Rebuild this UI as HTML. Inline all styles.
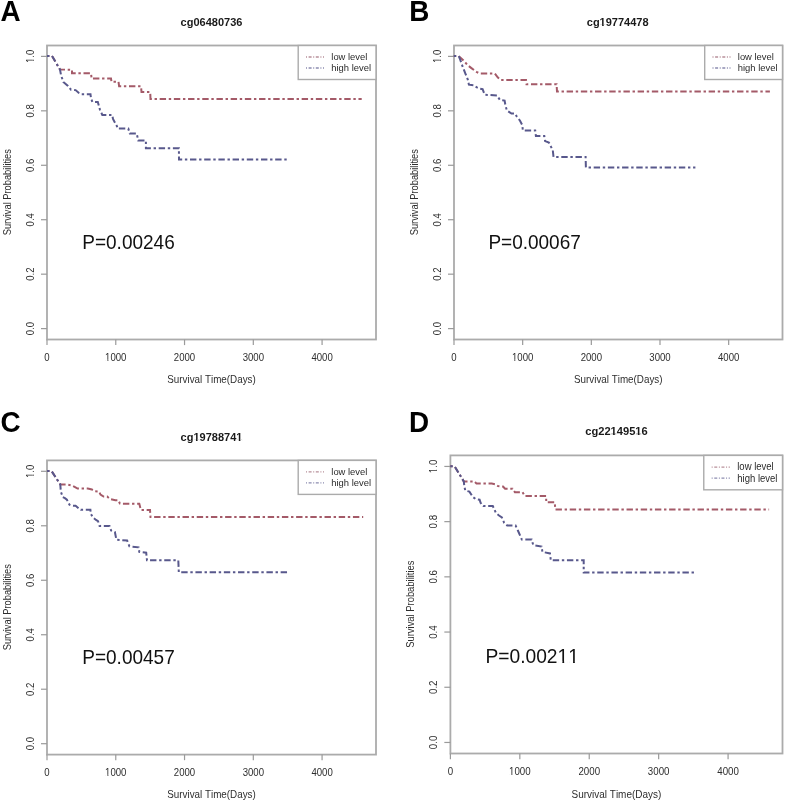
<!DOCTYPE html>
<html><head><meta charset="utf-8"><title>Survival curves</title>
<style>
html,body{margin:0;padding:0;background:#fff;}
body{width:785px;height:802px;overflow:hidden;}
svg{display:block;will-change:transform;}
text{font-family:"Liberation Sans", sans-serif;font-kerning:none;}
.lab{font-weight:bold;font-size:29px;fill:#000;}
.ttl{font-weight:bold;fill:#1a1a1a;}
.tk{fill:#2e2e2e;}
.al{fill:#2e2e2e;}
.lg{fill:#2a2a2a;}
.pv{fill:#111;}
</style></head>
<body>
<svg width="785" height="802" viewBox="0 0 785 802">
<rect width="785" height="802" fill="#fff"/>
<text transform="translate(0.4 20.8) scale(0.96 1)" class="lab">A</text>
<g transform="translate(211.5 25.8)"><text class="ttl" text-anchor="middle" style="font-size:11px">cg06480736</text></g>
<rect x="47" y="45.5" width="329" height="294" fill="none" stroke="#ababab" stroke-width="1.8"/>
<line x1="41" y1="328.61" x2="47" y2="328.61" stroke="#9a9a9a" stroke-width="1.2"/>
<g transform="translate(33.6 328.61) rotate(-90) scale(1 1.05)"><text class="tk" text-anchor="middle" style="font-size:9.6px">0.0</text></g>
<line x1="41" y1="274.17" x2="47" y2="274.17" stroke="#9a9a9a" stroke-width="1.2"/>
<g transform="translate(33.6 274.17) rotate(-90) scale(1 1.05)"><text class="tk" text-anchor="middle" style="font-size:9.6px">0.2</text></g>
<line x1="41" y1="219.72" x2="47" y2="219.72" stroke="#9a9a9a" stroke-width="1.2"/>
<g transform="translate(33.6 219.72) rotate(-90) scale(1 1.05)"><text class="tk" text-anchor="middle" style="font-size:9.6px">0.4</text></g>
<line x1="41" y1="165.28" x2="47" y2="165.28" stroke="#9a9a9a" stroke-width="1.2"/>
<g transform="translate(33.6 165.28) rotate(-90) scale(1 1.05)"><text class="tk" text-anchor="middle" style="font-size:9.6px">0.6</text></g>
<line x1="41" y1="110.83" x2="47" y2="110.83" stroke="#9a9a9a" stroke-width="1.2"/>
<g transform="translate(33.6 110.83) rotate(-90) scale(1 1.05)"><text class="tk" text-anchor="middle" style="font-size:9.6px">0.8</text></g>
<line x1="41" y1="56.39" x2="47" y2="56.39" stroke="#9a9a9a" stroke-width="1.2"/>
<g transform="translate(33.6 56.39) rotate(-90) scale(1 1.05)"><text class="tk" text-anchor="middle" style="font-size:9.6px">1.0</text><rect x="-6.54" y="-0.87" width="2.23" height="1.47" fill="#fff"/><rect x="-3.36" y="-0.87" width="2.16" height="1.47" fill="#fff"/></g>
<line x1="47" y1="339.5" x2="47" y2="345.1" stroke="#9a9a9a" stroke-width="1.2"/>
<g transform="translate(47 360.6) scale(1 1.05)"><text class="tk" text-anchor="middle" style="font-size:9.6px">0</text></g>
<line x1="115.77" y1="339.5" x2="115.77" y2="345.1" stroke="#9a9a9a" stroke-width="1.2"/>
<g transform="translate(115.77 360.6) scale(1 1.05)"><text class="tk" text-anchor="middle" style="font-size:9.6px">1000</text><rect x="-10.55" y="-0.87" width="2.23" height="1.47" fill="#fff"/><rect x="-7.37" y="-0.87" width="2.16" height="1.47" fill="#fff"/></g>
<line x1="184.54" y1="339.5" x2="184.54" y2="345.1" stroke="#9a9a9a" stroke-width="1.2"/>
<g transform="translate(184.54 360.6) scale(1 1.05)"><text class="tk" text-anchor="middle" style="font-size:9.6px">2000</text></g>
<line x1="253.31" y1="339.5" x2="253.31" y2="345.1" stroke="#9a9a9a" stroke-width="1.2"/>
<g transform="translate(253.31 360.6) scale(1 1.05)"><text class="tk" text-anchor="middle" style="font-size:9.6px">3000</text></g>
<line x1="322.08" y1="339.5" x2="322.08" y2="345.1" stroke="#9a9a9a" stroke-width="1.2"/>
<g transform="translate(322.08 360.6) scale(1 1.05)"><text class="tk" text-anchor="middle" style="font-size:9.6px">4000</text></g>
<g transform="translate(211.5 382.7) scale(1 1.05)"><text class="al" text-anchor="middle" style="font-size:9.85px">Survival Time(Days)</text></g>
<g transform="translate(11.4 192.2) rotate(-90) scale(1 1.18)"><text class="al" text-anchor="middle" style="font-size:9.3px">Survival Probabilities</text></g>
<rect x="298.2" y="45.5" width="77.8" height="34" fill="#fff" stroke="#ababab" stroke-width="1.4"/>
<line x1="306" y1="57" x2="324" y2="57" stroke="#b8909a" stroke-width="1.3" stroke-dasharray="1 1.6 3 1.6"/>
<line x1="306" y1="68" x2="324" y2="68" stroke="#8c8cb0" stroke-width="1.3" stroke-dasharray="1 1.6 3 1.6"/>
<g transform="translate(331.3 60.4) scale(1 1.05)"><text class="lg" style="font-size:9.4px">low level</text></g>
<g transform="translate(331.3 71.4) scale(1 1.05)"><text class="lg" style="font-size:9.4px">high level</text></g>
<polyline points="47,56 52,56 60,69.5 72,69.8 72,73.3 91,73.3 91.6,78.6 111,78.6 111.5,81.8 118.5,81.8 119.1,86.2 141,86.2 141.5,92 150.2,92 150.5,98.9 361.7,98.9" fill="none" stroke="#a45a68" stroke-width="2" stroke-dasharray="2.4 2.7 6.4 2.7" stroke-linejoin="miter"/>
<polyline points="47,56 52,56 60,69.5 61,75 63.3,82 68,86 71,89.7 75.6,90.1 78.6,92.8 81,94.3 90.5,94.3 91,98.2 92.4,101.9 97.8,101.9 100,109.8 102.3,114.9 112.2,114.9 113,119 116.8,125.9 117.6,128.6 128.3,128.6 129.8,133.5 136.7,133.5 138.2,140.4 145.9,140.4 145.9,148.2 178.9,148.2 179,159.6 286.8,159.6" fill="none" stroke="#58588c" stroke-width="2" stroke-dasharray="2.4 2.7 6.4 2.7" stroke-linejoin="miter"/>
<g transform="translate(82.3 248.6) scale(1 1.04)"><text class="pv" style="font-size:19px">P=0.00246</text></g>
<text transform="translate(409.3 20.9) scale(0.96 1)" class="lab">B</text>
<g transform="translate(617.65 25.8)"><text class="ttl" text-anchor="middle" style="font-size:11px">cg19774478</text><rect x="-17.96" y="-1.27" width="2.42" height="1.87" fill="#fff"/><rect x="-13.93" y="-1.27" width="2.28" height="1.87" fill="#fff"/></g>
<rect x="454" y="45.5" width="328.5" height="294" fill="none" stroke="#ababab" stroke-width="1.8"/>
<line x1="448" y1="328.61" x2="454" y2="328.61" stroke="#9a9a9a" stroke-width="1.2"/>
<g transform="translate(440.6 328.61) rotate(-90) scale(1 1.05)"><text class="tk" text-anchor="middle" style="font-size:9.6px">0.0</text></g>
<line x1="448" y1="274.17" x2="454" y2="274.17" stroke="#9a9a9a" stroke-width="1.2"/>
<g transform="translate(440.6 274.17) rotate(-90) scale(1 1.05)"><text class="tk" text-anchor="middle" style="font-size:9.6px">0.2</text></g>
<line x1="448" y1="219.72" x2="454" y2="219.72" stroke="#9a9a9a" stroke-width="1.2"/>
<g transform="translate(440.6 219.72) rotate(-90) scale(1 1.05)"><text class="tk" text-anchor="middle" style="font-size:9.6px">0.4</text></g>
<line x1="448" y1="165.28" x2="454" y2="165.28" stroke="#9a9a9a" stroke-width="1.2"/>
<g transform="translate(440.6 165.28) rotate(-90) scale(1 1.05)"><text class="tk" text-anchor="middle" style="font-size:9.6px">0.6</text></g>
<line x1="448" y1="110.83" x2="454" y2="110.83" stroke="#9a9a9a" stroke-width="1.2"/>
<g transform="translate(440.6 110.83) rotate(-90) scale(1 1.05)"><text class="tk" text-anchor="middle" style="font-size:9.6px">0.8</text></g>
<line x1="448" y1="56.39" x2="454" y2="56.39" stroke="#9a9a9a" stroke-width="1.2"/>
<g transform="translate(440.6 56.39) rotate(-90) scale(1 1.05)"><text class="tk" text-anchor="middle" style="font-size:9.6px">1.0</text><rect x="-6.54" y="-0.87" width="2.23" height="1.47" fill="#fff"/><rect x="-3.36" y="-0.87" width="2.16" height="1.47" fill="#fff"/></g>
<line x1="454" y1="339.5" x2="454" y2="345.1" stroke="#9a9a9a" stroke-width="1.2"/>
<g transform="translate(454 360.6) scale(1 1.05)"><text class="tk" text-anchor="middle" style="font-size:9.6px">0</text></g>
<line x1="522.67" y1="339.5" x2="522.67" y2="345.1" stroke="#9a9a9a" stroke-width="1.2"/>
<g transform="translate(522.67 360.6) scale(1 1.05)"><text class="tk" text-anchor="middle" style="font-size:9.6px">1000</text><rect x="-10.55" y="-0.87" width="2.23" height="1.47" fill="#fff"/><rect x="-7.37" y="-0.87" width="2.16" height="1.47" fill="#fff"/></g>
<line x1="591.33" y1="339.5" x2="591.33" y2="345.1" stroke="#9a9a9a" stroke-width="1.2"/>
<g transform="translate(591.33 360.6) scale(1 1.05)"><text class="tk" text-anchor="middle" style="font-size:9.6px">2000</text></g>
<line x1="660" y1="339.5" x2="660" y2="345.1" stroke="#9a9a9a" stroke-width="1.2"/>
<g transform="translate(660 360.6) scale(1 1.05)"><text class="tk" text-anchor="middle" style="font-size:9.6px">3000</text></g>
<line x1="728.67" y1="339.5" x2="728.67" y2="345.1" stroke="#9a9a9a" stroke-width="1.2"/>
<g transform="translate(728.67 360.6) scale(1 1.05)"><text class="tk" text-anchor="middle" style="font-size:9.6px">4000</text></g>
<g transform="translate(618.25 382.7) scale(1 1.05)"><text class="al" text-anchor="middle" style="font-size:9.85px">Survival Time(Days)</text></g>
<g transform="translate(418.4 192.2) rotate(-90) scale(1 1.18)"><text class="al" text-anchor="middle" style="font-size:9.3px">Survival Probabilities</text></g>
<rect x="704.7" y="45.5" width="77.8" height="34" fill="#fff" stroke="#ababab" stroke-width="1.4"/>
<line x1="712.5" y1="57" x2="730.5" y2="57" stroke="#b8909a" stroke-width="1.3" stroke-dasharray="1 1.6 3 1.6"/>
<line x1="712.5" y1="68" x2="730.5" y2="68" stroke="#8c8cb0" stroke-width="1.3" stroke-dasharray="1 1.6 3 1.6"/>
<g transform="translate(737.8 60.4) scale(1 1.05)"><text class="lg" style="font-size:9.4px">low level</text></g>
<g transform="translate(737.8 71.4) scale(1 1.05)"><text class="lg" style="font-size:9.4px">high level</text></g>
<polyline points="453.8,56 458.7,56 463.2,60.2 467.8,65.3 471.4,68.1 476.5,71.9 479.6,73.4 494.8,73.4 497.9,77.5 501,80 526,80 526.5,84.2 556.6,84.2 557,91.5 769.9,91.5" fill="none" stroke="#a45a68" stroke-width="2" stroke-dasharray="2.4 2.7 6.4 2.7" stroke-linejoin="miter"/>
<polyline points="453.8,56 458.7,56 460.2,59.7 462.7,66.8 465.3,73.4 467.8,79.6 468.9,84.7 473.4,85.2 476.5,87.2 479.6,88.7 482.6,89.2 484.7,94.8 496.9,95.4 500,100 504.6,100.6 505.4,105.2 506.9,110.5 511.5,113.6 515.3,113.6 516.8,116.6 519.9,120.5 522.2,125 522.9,130.4 535.2,130.4 535.9,136 544.3,136 545.1,141.1 548.9,142.6 552.8,150.3 553.5,156.9 585.6,156.9 585.9,167.4 695.4,167.4" fill="none" stroke="#58588c" stroke-width="2" stroke-dasharray="2.4 2.7 6.4 2.7" stroke-linejoin="miter"/>
<g transform="translate(488.4 248.6) scale(1 1.04)"><text class="pv" style="font-size:19px">P=0.00067</text></g>
<text transform="translate(0.4 432.3) scale(0.96 1)" class="lab">C</text>
<g transform="translate(211.5 440.7)"><text class="ttl" text-anchor="middle" style="font-size:11px">cg19788741</text><rect x="-17.96" y="-1.27" width="2.42" height="1.87" fill="#fff"/><rect x="-13.93" y="-1.27" width="2.28" height="1.87" fill="#fff"/><rect x="24.86" y="-1.27" width="2.42" height="1.87" fill="#fff"/><rect x="28.9" y="-1.27" width="2.28" height="1.87" fill="#fff"/></g>
<rect x="47" y="460.4" width="329" height="294.2" fill="none" stroke="#ababab" stroke-width="1.8"/>
<line x1="41" y1="743.7" x2="47" y2="743.7" stroke="#9a9a9a" stroke-width="1.2"/>
<g transform="translate(33.6 743.7) rotate(-90) scale(1 1.05)"><text class="tk" text-anchor="middle" style="font-size:9.6px">0.0</text></g>
<line x1="41" y1="689.22" x2="47" y2="689.22" stroke="#9a9a9a" stroke-width="1.2"/>
<g transform="translate(33.6 689.22) rotate(-90) scale(1 1.05)"><text class="tk" text-anchor="middle" style="font-size:9.6px">0.2</text></g>
<line x1="41" y1="634.74" x2="47" y2="634.74" stroke="#9a9a9a" stroke-width="1.2"/>
<g transform="translate(33.6 634.74) rotate(-90) scale(1 1.05)"><text class="tk" text-anchor="middle" style="font-size:9.6px">0.4</text></g>
<line x1="41" y1="580.26" x2="47" y2="580.26" stroke="#9a9a9a" stroke-width="1.2"/>
<g transform="translate(33.6 580.26) rotate(-90) scale(1 1.05)"><text class="tk" text-anchor="middle" style="font-size:9.6px">0.6</text></g>
<line x1="41" y1="525.78" x2="47" y2="525.78" stroke="#9a9a9a" stroke-width="1.2"/>
<g transform="translate(33.6 525.78) rotate(-90) scale(1 1.05)"><text class="tk" text-anchor="middle" style="font-size:9.6px">0.8</text></g>
<line x1="41" y1="471.3" x2="47" y2="471.3" stroke="#9a9a9a" stroke-width="1.2"/>
<g transform="translate(33.6 471.3) rotate(-90) scale(1 1.05)"><text class="tk" text-anchor="middle" style="font-size:9.6px">1.0</text><rect x="-6.54" y="-0.87" width="2.23" height="1.47" fill="#fff"/><rect x="-3.36" y="-0.87" width="2.16" height="1.47" fill="#fff"/></g>
<line x1="47" y1="754.6" x2="47" y2="760.2" stroke="#9a9a9a" stroke-width="1.2"/>
<g transform="translate(47 775.7) scale(1 1.05)"><text class="tk" text-anchor="middle" style="font-size:9.6px">0</text></g>
<line x1="115.77" y1="754.6" x2="115.77" y2="760.2" stroke="#9a9a9a" stroke-width="1.2"/>
<g transform="translate(115.77 775.7) scale(1 1.05)"><text class="tk" text-anchor="middle" style="font-size:9.6px">1000</text><rect x="-10.55" y="-0.87" width="2.23" height="1.47" fill="#fff"/><rect x="-7.37" y="-0.87" width="2.16" height="1.47" fill="#fff"/></g>
<line x1="184.54" y1="754.6" x2="184.54" y2="760.2" stroke="#9a9a9a" stroke-width="1.2"/>
<g transform="translate(184.54 775.7) scale(1 1.05)"><text class="tk" text-anchor="middle" style="font-size:9.6px">2000</text></g>
<line x1="253.31" y1="754.6" x2="253.31" y2="760.2" stroke="#9a9a9a" stroke-width="1.2"/>
<g transform="translate(253.31 775.7) scale(1 1.05)"><text class="tk" text-anchor="middle" style="font-size:9.6px">3000</text></g>
<line x1="322.08" y1="754.6" x2="322.08" y2="760.2" stroke="#9a9a9a" stroke-width="1.2"/>
<g transform="translate(322.08 775.7) scale(1 1.05)"><text class="tk" text-anchor="middle" style="font-size:9.6px">4000</text></g>
<g transform="translate(211.5 797.8) scale(1 1.05)"><text class="al" text-anchor="middle" style="font-size:9.85px">Survival Time(Days)</text></g>
<g transform="translate(11.4 607.2) rotate(-90) scale(1 1.18)"><text class="al" text-anchor="middle" style="font-size:9.3px">Survival Probabilities</text></g>
<rect x="298.2" y="460.4" width="77.8" height="34" fill="#fff" stroke="#ababab" stroke-width="1.4"/>
<line x1="306" y1="471.9" x2="324" y2="471.9" stroke="#b8909a" stroke-width="1.3" stroke-dasharray="1 1.6 3 1.6"/>
<line x1="306" y1="482.9" x2="324" y2="482.9" stroke="#8c8cb0" stroke-width="1.3" stroke-dasharray="1 1.6 3 1.6"/>
<g transform="translate(331.3 475.3) scale(1 1.05)"><text class="lg" style="font-size:9.4px">low level</text></g>
<g transform="translate(331.3 486.3) scale(1 1.05)"><text class="lg" style="font-size:9.4px">high level</text></g>
<polyline points="47.1,471.1 51.6,471.1 60.3,484.4 66.9,484.4 71.5,485.4 74.6,486.9 77.6,488.6 87.8,488.6 91.9,489.5 95,491.3 99,491.5 100.5,494.6 103.6,496.6 107.2,496.6 110.2,499.1 115.3,500.2 118.4,500.2 119.9,503.6 139.3,503.8 140.9,509.9 150,509.9 150.5,517.1 363.2,517.1" fill="none" stroke="#a45a68" stroke-width="2" stroke-dasharray="2.4 2.7 6.4 2.7" stroke-linejoin="miter"/>
<polyline points="47.1,471.1 51.6,471.1 60.3,484.4 60.8,491.5 62.8,497.1 64.9,498.1 66.9,499.7 69.5,504.8 71.5,505.6 75.6,505.8 78.6,508.3 80.7,509.8 90.4,509.8 90.9,513.9 92.9,517.5 96,520 98,521.1 99.6,525.9 109.5,525.9 111.1,530.5 114.9,532 116.4,539.7 127.1,540.5 129.4,546.3 138.6,547.3 139.3,551.9 146.2,552.7 147,560.3 178.3,560.3 178.8,572.2 289.4,572.2" fill="none" stroke="#58588c" stroke-width="2" stroke-dasharray="2.4 2.7 6.4 2.7" stroke-linejoin="miter"/>
<g transform="translate(82.3 663.6) scale(1 1.04)"><text class="pv" style="font-size:19px">P=0.00457</text></g>
<text transform="translate(409.1 432.1) scale(0.96 1)" class="lab">D</text>
<g transform="translate(616.45 435.46)"><text class="ttl" text-anchor="middle" style="font-size:11.13px">cg22149516</text><rect x="-5.79" y="-1.29" width="2.45" height="1.89" fill="#fff"/><rect x="-1.71" y="-1.29" width="2.31" height="1.89" fill="#fff"/><rect x="18.98" y="-1.29" width="2.45" height="1.89" fill="#fff"/><rect x="23.05" y="-1.29" width="2.31" height="1.89" fill="#fff"/></g>
<rect x="450.4" y="455.4" width="332.1" height="298.1" fill="none" stroke="#ababab" stroke-width="1.8"/>
<line x1="444.33" y1="742.46" x2="450.4" y2="742.46" stroke="#9a9a9a" stroke-width="1.2"/>
<g transform="translate(436.84 742.46) rotate(-90) scale(1 1.05)"><text class="tk" text-anchor="middle" style="font-size:9.72px">0.0</text></g>
<line x1="444.33" y1="687.26" x2="450.4" y2="687.26" stroke="#9a9a9a" stroke-width="1.2"/>
<g transform="translate(436.84 687.26) rotate(-90) scale(1 1.05)"><text class="tk" text-anchor="middle" style="font-size:9.72px">0.2</text></g>
<line x1="444.33" y1="632.05" x2="450.4" y2="632.05" stroke="#9a9a9a" stroke-width="1.2"/>
<g transform="translate(436.84 632.05) rotate(-90) scale(1 1.05)"><text class="tk" text-anchor="middle" style="font-size:9.72px">0.4</text></g>
<line x1="444.33" y1="576.85" x2="450.4" y2="576.85" stroke="#9a9a9a" stroke-width="1.2"/>
<g transform="translate(436.84 576.85) rotate(-90) scale(1 1.05)"><text class="tk" text-anchor="middle" style="font-size:9.72px">0.6</text></g>
<line x1="444.33" y1="521.64" x2="450.4" y2="521.64" stroke="#9a9a9a" stroke-width="1.2"/>
<g transform="translate(436.84 521.64) rotate(-90) scale(1 1.05)"><text class="tk" text-anchor="middle" style="font-size:9.72px">0.8</text></g>
<line x1="444.33" y1="466.44" x2="450.4" y2="466.44" stroke="#9a9a9a" stroke-width="1.2"/>
<g transform="translate(436.84 466.44) rotate(-90) scale(1 1.05)"><text class="tk" text-anchor="middle" style="font-size:9.72px">1.0</text><rect x="-6.61" y="-0.88" width="2.25" height="1.48" fill="#fff"/><rect x="-3.4" y="-0.88" width="2.18" height="1.48" fill="#fff"/></g>
<line x1="450.4" y1="753.5" x2="450.4" y2="759.17" stroke="#9a9a9a" stroke-width="1.2"/>
<g transform="translate(450.4 774.85) scale(1 1.05)"><text class="tk" text-anchor="middle" style="font-size:9.72px">0</text></g>
<line x1="519.82" y1="753.5" x2="519.82" y2="759.17" stroke="#9a9a9a" stroke-width="1.2"/>
<g transform="translate(519.82 774.85) scale(1 1.05)"><text class="tk" text-anchor="middle" style="font-size:9.72px">1000</text><rect x="-10.67" y="-0.88" width="2.25" height="1.48" fill="#fff"/><rect x="-7.45" y="-0.88" width="2.18" height="1.48" fill="#fff"/></g>
<line x1="589.24" y1="753.5" x2="589.24" y2="759.17" stroke="#9a9a9a" stroke-width="1.2"/>
<g transform="translate(589.24 774.85) scale(1 1.05)"><text class="tk" text-anchor="middle" style="font-size:9.72px">2000</text></g>
<line x1="658.66" y1="753.5" x2="658.66" y2="759.17" stroke="#9a9a9a" stroke-width="1.2"/>
<g transform="translate(658.66 774.85) scale(1 1.05)"><text class="tk" text-anchor="middle" style="font-size:9.72px">3000</text></g>
<line x1="728.08" y1="753.5" x2="728.08" y2="759.17" stroke="#9a9a9a" stroke-width="1.2"/>
<g transform="translate(728.08 774.85) scale(1 1.05)"><text class="tk" text-anchor="middle" style="font-size:9.72px">4000</text></g>
<g transform="translate(616.45 798.22) scale(1 1.05)"><text class="al" text-anchor="middle" style="font-size:9.97px">Survival Time(Days)</text></g>
<g transform="translate(414.37 604.15) rotate(-90) scale(1 1.18)"><text class="al" text-anchor="middle" style="font-size:9.41px">Survival Probabilities</text></g>
<rect x="703.77" y="455.4" width="78.73" height="34.41" fill="#fff" stroke="#ababab" stroke-width="1.4"/>
<line x1="711.66" y1="467.04" x2="729.88" y2="467.04" stroke="#b8909a" stroke-width="1.3" stroke-dasharray="1 1.6 3 1.6"/>
<line x1="711.66" y1="478.17" x2="729.88" y2="478.17" stroke="#8c8cb0" stroke-width="1.3" stroke-dasharray="1 1.6 3 1.6"/>
<g transform="translate(737.26 470.48) scale(1 1.05)"><text class="lg" style="font-size:9.51px">low level</text></g>
<g transform="translate(737.26 481.61) scale(1 1.05)"><text class="lg" style="font-size:9.51px">high level</text></g>
<polyline points="450.3,466.3 454.6,466.3 463.8,481.4 474.5,481.4 476.5,483.6 491.8,483.6 495.4,484.3 497.9,486 503,486.5 505.1,488.7 512.6,488.7 514.9,492.2 522.5,492.2 524.8,496.1 546.2,496.1 546.2,502.2 554.6,502.2 555.4,509.4 769.1,509.4" fill="none" stroke="#a45a68" stroke-width="2" stroke-dasharray="2.4 2.7 6.4 2.7" stroke-linejoin="miter"/>
<polyline points="450.3,466.3 454.6,466.3 463.8,481.4 464.3,486 465.3,490.6 469.4,491.6 471.4,494.7 472.5,496.7 476,499.2 479.6,499.7 480.6,502.8 483.2,506.1 492.8,506.1 494.4,509.4 495.9,513 499,515.5 501.9,517.5 504.2,522.8 507.2,525.6 515.6,525.6 517.9,530.5 520.2,535.8 521.8,539.6 531.7,539.6 533.2,545 541.6,546.5 542.4,551.9 550,553.4 550.8,560.3 583.7,560.3 583.7,572.6 695.4,572.6" fill="none" stroke="#58588c" stroke-width="2" stroke-dasharray="2.4 2.7 6.4 2.7" stroke-linejoin="miter"/>
<g transform="translate(485.4 662.6) scale(1 1.04)"><text class="pv" style="font-size:19.23px">P=0.00211</text><rect x="73.04" y="-1.59" width="3.92" height="2.19" fill="#fff"/><rect x="78.76" y="-1.59" width="3.77" height="2.19" fill="#fff"/><rect x="83.73" y="-1.59" width="3.92" height="2.19" fill="#fff"/><rect x="89.45" y="-1.59" width="3.77" height="2.19" fill="#fff"/></g>
</svg>
</body></html>
